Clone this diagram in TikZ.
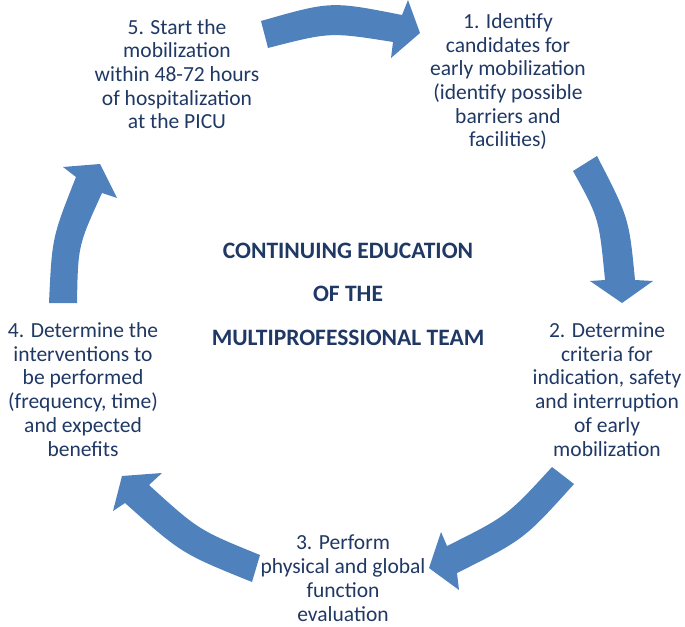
\documentclass[tikz,border=0pt]{standalone}
\usepackage{fontspec}
\setmainfont{Carlito}
\definecolor{arrowblue}{HTML}{4F81BD}
\definecolor{textnavy}{HTML}{1F3864}
\begin{document}
\begin{tikzpicture}[x=1bp,y=-1bp,
  cyclearrow/.style={fill=arrowblue,draw=none},
  steptext/.style={text=textnavy,font=\fontsize{21.6}{23.8}\selectfont,align=center,inner sep=0pt,anchor=base},
  titletext/.style={text=textnavy,font=\bfseries\fontsize{23.6}{43.5}\selectfont,align=center,inner sep=0pt,anchor=base}]
\useasboundingbox (0,0) rectangle (685,627);
% arrows
\fill[cyclearrow] (261,21) .. controls (331,1) .. (402,15) -- (408,0) -- (420,33) -- (391,58) -- (393,42) .. controls (330,32) .. (268,48) -- cycle;
\fill[cyclearrow] (597,156) .. controls (629,218) .. (635,280) -- (653,281) -- (622,303) -- (590,281) -- (605,280) .. controls (599,218) .. (573,171) -- cycle;
\fill[cyclearrow] (552,467) .. controls (507,516) .. (447,546) -- (441,532) -- (429,568) -- (459,590) -- (457,573) .. controls (524,539.5) .. (574,484) -- cycle;
\fill[cyclearrow] (260,555) .. controls (198.5,530) .. (149,485) -- (162,473) -- (122,476) -- (113,511) -- (125,503) .. controls (181.5,553.5) .. (252,582) -- cycle;
\fill[cyclearrow] (49,303) .. controls (52,237.6) .. (76,177) -- (63,167) -- (100,164) -- (117,198) -- (102,193) .. controls (78,245.6) .. (77,303) -- cycle;
% texts (anchored at the baseline of their last line)
\node[steptext] (s5) at (177,129) {5. Start the\\mobilization\\within 48-72 hours\\of hospitalization\\at the PICU};
\node[steptext] (s1) at (508,147) {1. Identify\\candidates for\\early mobilization\\(identify possible\\barriers and\\facilities)};
\node[steptext] (s2) at (607,456) {2. Determine\\criteria for\\indication, safety\\and interruption\\of early\\mobilization};
\node[steptext] (s3) at (343,621) {3. Perform\\physical and global\\function\\evaluation};
\node[steptext] (s4) at (83,456) {4. Determine the\\interventions to\\be performed\\(frequency, time)\\and expected\\benefits};
\node[titletext] (ctr) at (348,345) {CONTINUING EDUCATION\\OF THE\\MULTIPROFESSIONAL TEAM};
\end{tikzpicture}
\end{document}
